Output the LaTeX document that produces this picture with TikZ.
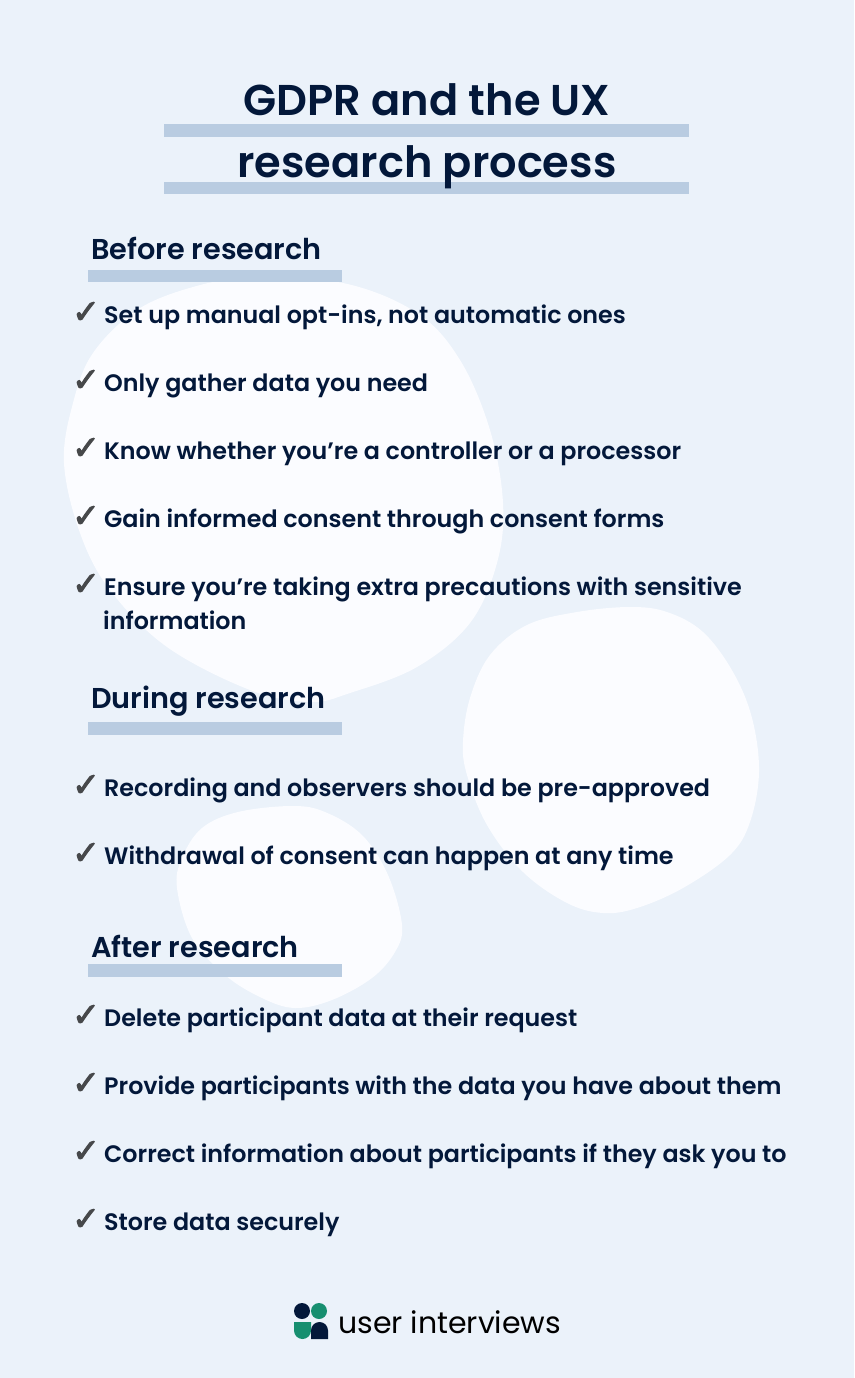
\documentclass[tikz,border=0pt]{standalone}
\usepackage{fontspec}
\setmainfont{Poppins}[BoldFont={Poppins SemiBold}]
\newfontfamily\checkfont[FakeBold=3]{DejaVu Sans}
\definecolor{pagebg}{HTML}{EBF2FA}
\definecolor{blobfill}{HTML}{FBFCFF}
\definecolor{barblue}{HTML}{B9CCE1}
\definecolor{inkblue}{HTML}{03183A}
\definecolor{checkgrey}{HTML}{46484A}
\definecolor{logogreen}{HTML}{178F70}
\tikzset{
  titletext/.style={anchor=base, inner sep=0pt, text=inkblue, font=\fontsize{43.1}{48}\selectfont\bfseries},
  headtext/.style={anchor=base west, inner sep=0pt, text=inkblue, font=\fontsize{28.7}{32}\selectfont\bfseries},
  itemtext/.style={anchor=base west, inner sep=0pt, text=inkblue, font=\fontsize{23.8}{28}\selectfont\bfseries},
  checktext/.style={anchor=base west, inner sep=0pt, text=checkgrey, font=\fontsize{33}{36}\selectfont\checkfont},
  brandtext/.style={anchor=base west, inner sep=0pt, text=black, font=\fontsize{30}{36}\selectfont},
  barfill/.style={fill=barblue},
  blob/.style={fill=blobfill}
}
\begin{document}
\begin{tikzpicture}[x=1pt, y=-1pt]
        \useasboundingbox (0,0) rectangle (854,1378);
        \fill[pagebg] (0,0) rectangle (854,1378);

        % Background blobs
        \fill[blob] plot[smooth cycle, tension=0.6] coordinates {(250,278) (343,283) (417,313) (460,360) (490,430) (503,503) (497,563) (470,623) (417,667) (350,693) (310,702) (250,690) (167,647) (110,590) (80,533) (64,463) (73,403) (93,353) (137,310) (193,287)};
        \fill[blob] plot[smooth cycle, tension=0.6] coordinates {(630,607) (667,612) (703,632) (733,672) (752,718) (759,772) (750,822) (730,855) (683,888) (637,908) (603,913) (567,903) (523,872) (487,825) (467,775) (463,742) (470,698) (490,655) (527,625) (577,612)};
        \fill[blob] plot[smooth cycle, tension=0.6] coordinates {(292,806) (325,812) (362,835) (388,875) (402,925) (395,952) (372,978) (332,1000) (295,1008) (262,998) (225,975) (192,938) (177,888) (182,858) (202,828) (238,812)};

        % Bars
        \fill[barfill] (164,124) rectangle (689,137);
        \fill[barfill] (164,182) rectangle (689,194);
        \fill[barfill] (88,270) rectangle (342,282);
        \fill[barfill] (88,722) rectangle (342,735);
        \fill[barfill] (88,964) rectangle (342,977);

        % Title
        \node[titletext] (title1) at (427,116) {GDPR and the UX};
        \node[titletext] (title2) at (427,177) {research process};

        % Before research
        \node[headtext] (before) at (91,259) {Before research};
        \node[checktext] (check1) at (72,323) {✓};
        \node[itemtext] (item1) at (104,323) {Set up manual opt-ins, not automatic ones};
        \node[checktext] (check2) at (72,391) {✓};
        \node[itemtext] (item2) at (104,391) {Only gather data you need};
        \node[checktext] (check3) at (72,459) {✓};
        \node[itemtext] (item3) at (104,459) {Know whether you’re a controller or a processor};
        \node[checktext] (check4) at (72,527) {✓};
        \node[itemtext] (item4) at (104,527) {Gain informed consent through consent forms};
        \node[checktext] (check5) at (72,595) {✓};
        \node[itemtext] (item5) at (104,595) {Ensure you’re taking extra precautions with sensitive};
        \node[itemtext] (item5b) at (103,629) {information};

        % During research
        \node[headtext] (during) at (91,708) {During research};
        \node[checktext] (check6) at (72,796) {✓};
        \node[itemtext] (item6) at (104,796) {Recording and observers should be pre-approved};
        \node[checktext] (check7) at (72,864) {✓};
        \node[itemtext] (item7) at (104,864) {Withdrawal of consent can happen at any time};

        % After research
        \node[headtext] (after) at (91,957) {After research};
        \node[checktext] (check8) at (72,1026) {✓};
        \node[itemtext] (item8) at (104,1026) {Delete participant data at their request};
        \node[checktext] (check9) at (72,1094) {✓};
        \node[itemtext] (item9) at (104,1094) {Provide participants with the data you have about them};
        \node[checktext] (check10) at (72,1162) {✓};
        \node[itemtext] (item10) at (104,1162) {Correct information about participants if they ask you to};
        \node[checktext] (check11) at (72,1230) {✓};
        \node[itemtext] (item11) at (104,1230) {Store data securely};

        % Logo
        \fill[inkblue] (302,1311) circle (8);
        \fill[logogreen] (319,1311) circle (8);
        \fill[logogreen] (294,1322) -- (311,1322) -- (311,1330.5) arc[start angle=0, end angle=180, x radius=8.5, y radius=8.5] -- cycle;
        \fill[inkblue] (311,1339) -- (328,1339) -- (328,1330.5) arc[start angle=0, end angle=180, x radius=8.5, y radius=-8.5] -- cycle;
        \node[brandtext] (brand) at (338,1333) {user interviews};
    \end{tikzpicture}
\end{document}
